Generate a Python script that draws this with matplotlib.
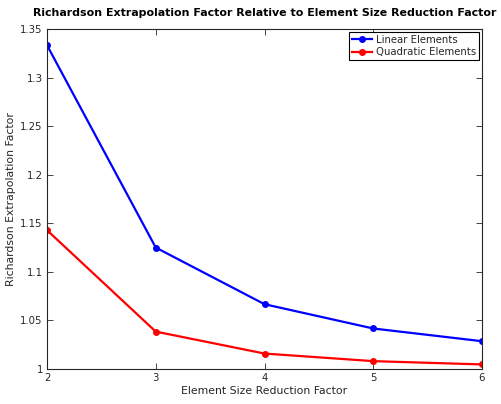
import matplotlib
matplotlib.use("Agg")
import matplotlib.pyplot as plt

reduction = [2, 3, 4, 5, 6]
linear = [1.3333, 1.1250, 1.0667, 1.0417, 1.0286]
quadratic = [1.1429, 1.0385, 1.0159, 1.0081, 1.0047]
yticks = [1, 1.05, 1.1, 1.15, 1.2, 1.25, 1.3, 1.35]
yticklabels = ["1", "1.05", "1.1", "1.15", "1.2", "1.25", "1.3", "1.35"]

plt.rcParams['font.family'] = ['DejaVu Sans']
tc = '#262626'
fig = plt.figure(figsize=(5.02, 4.04), dpi=100)
ax = fig.add_axes([47/502, 35/404, 435/502, 340/404])
ax.plot(reduction, linear, '-o', color='blue', lw=1.6, ms=4, label='Linear Elements')
ax.plot(reduction, quadratic, '-o', color='red', lw=1.6, ms=4, label='Quadratic Elements')
ax.set_xlim(2, 6)
ax.set_ylim(1, 1.35)
ax.set_xticks(reduction)
ax.set_yticks(yticks)
ax.set_yticklabels(yticklabels)
ax.tick_params(direction='in', top=True, right=True, labelsize=7.3, colors=tc, length=4, width=0.6, pad=3)
for s in ax.spines.values():
    s.set_color(tc)
    s.set_linewidth(0.8)
ax.set_xlabel('Element Size Reduction Factor', fontsize=7.8, color=tc, labelpad=2)
ax.set_ylabel('Richardson Extrapolation Factor', fontsize=7.8, color=tc, labelpad=3)
ax.set_title('Richardson Extrapolation Factor Relative to Element Size Reduction Factor',
             fontsize=7.95, fontweight='bold', color='black', pad=9, x=0.5)
leg = ax.legend(loc='upper right', fontsize=7.3, fancybox=False, framealpha=1,
                edgecolor='black', borderpad=0.25, labelspacing=0.25, handlelength=2.0,
                handletextpad=0.4, borderaxespad=0.3)
leg.get_frame().set_linewidth(0.8)
for t in leg.get_texts():
    t.set_color(tc)
fig.savefig('out.png', dpi=100)
